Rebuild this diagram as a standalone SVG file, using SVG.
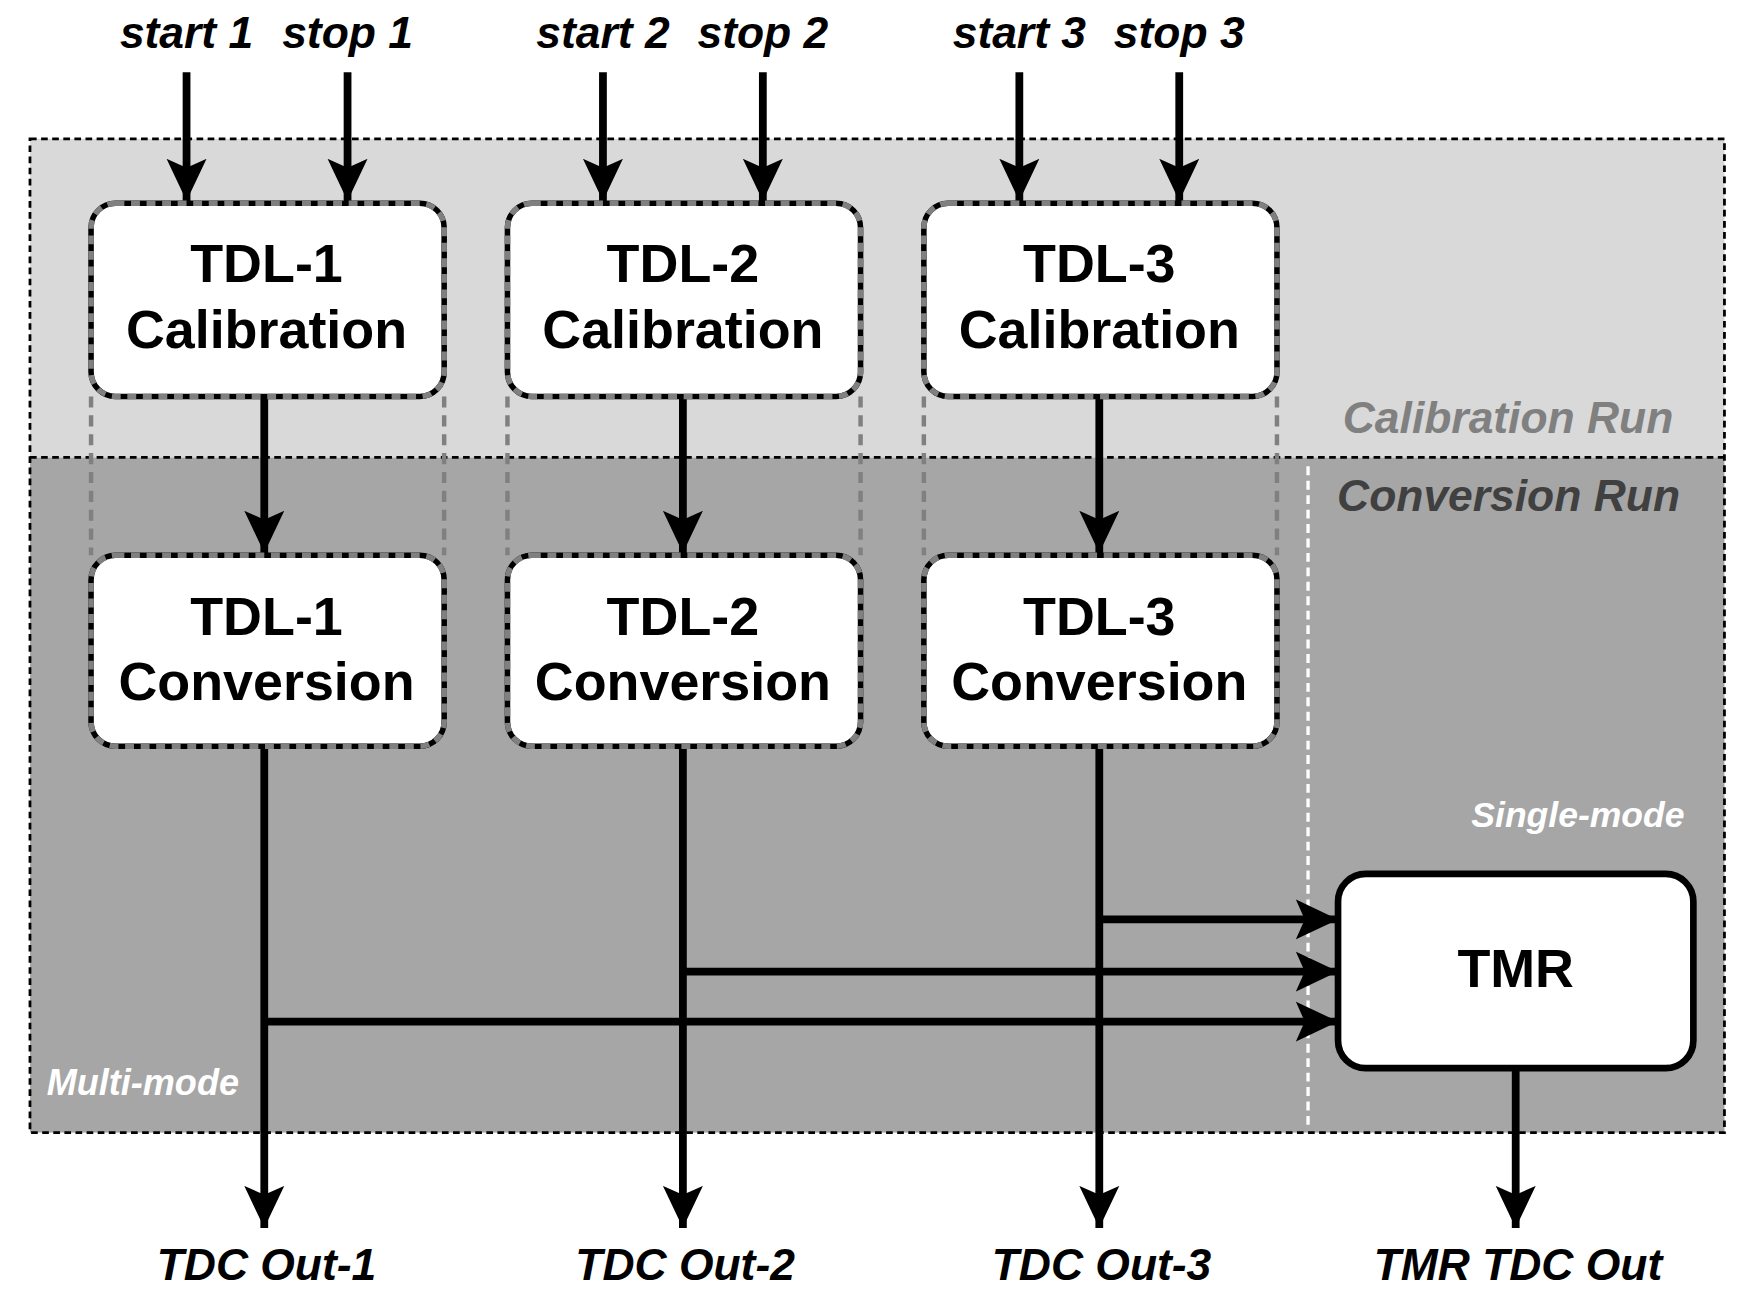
<svg xmlns="http://www.w3.org/2000/svg" width="1741" height="1303" viewBox="0 0 1741 1303">
<style>
.box{fill:#fff;stroke:#000;stroke-width:5}
.boxd{fill:none;stroke:#808080;stroke-width:5;stroke-dasharray:8 6}
.grp{fill:none;stroke:#808080;stroke-width:4;stroke-dasharray:10 7}
.ln{stroke:#000;stroke-width:7;fill:none}
.bt{font-family:"Liberation Sans",Arial,sans-serif;font-weight:bold;font-size:48.5px;text-anchor:middle;fill:#000}
.it{font-family:"Liberation Sans",Arial,sans-serif;font-weight:bold;font-style:italic;font-size:40px;text-anchor:middle;fill:#000}
</style>
<defs>
<marker id="ah" viewBox="0 0 40 40" refX="38" refY="20" markerWidth="40" markerHeight="40" markerUnits="userSpaceOnUse" orient="auto">
<path d="M0,2 L38,20 L0,38 L8,20 Z" fill="#000"/>
</marker>
</defs>
<rect width="1741" height="1303" fill="#fff"/>
<g transform="scale(1.1104)">
<g id="regions">
<rect x="27" y="125" width="1526" height="287" fill="#d9d9d9"/>
<rect x="27" y="412" width="1526" height="608" fill="#a6a6a6"/>
<rect x="27" y="125" width="1526" height="895" fill="none" stroke="#000" stroke-width="2.5" stroke-dasharray="6 4"/>
<line x1="27" y1="412" x2="1553" y2="412" stroke="#000" stroke-width="2.5" stroke-dasharray="6 4"/>
<line x1="1178" y1="420" x2="1178" y2="1015" stroke="#fff" stroke-width="3" stroke-dasharray="8 5"/>
<text x="1507" y="390" class="it" style="text-anchor:end;fill:#808080">Calibration Run</text>
<text x="1513" y="460" class="it" style="text-anchor:end;fill:#404040">Conversion Run</text>
<text x="1517" y="745" class="it" style="text-anchor:end;fill:#fff;font-size:32px">Single-mode</text>
<text x="42" y="986" class="it" style="text-anchor:start;fill:#fff;font-size:32.5px">Multi-mode</text>
</g>
<g id="groups">
<path class="grp" d="M82,357 V500 M400,357 V500 M457,357 V500 M775,357 V500 M832,357 V500 M1150,357 V500"/>
</g>
<g id="connectors">
<path class="ln" marker-end="url(#ah)" d="M168,65 V181"/>
<path class="ln" marker-end="url(#ah)" d="M313,65 V181"/>
<path class="ln" marker-end="url(#ah)" d="M543,65 V181"/>
<path class="ln" marker-end="url(#ah)" d="M687,65 V181"/>
<path class="ln" marker-end="url(#ah)" d="M918,65 V181"/>
<path class="ln" marker-end="url(#ah)" d="M1062,65 V181"/>
<path class="ln" marker-end="url(#ah)" d="M238,357 V498"/>
<path class="ln" marker-end="url(#ah)" d="M615,357 V498"/>
<path class="ln" marker-end="url(#ah)" d="M990,357 V498"/>
<path class="ln" marker-end="url(#ah)" d="M238,672 V1106"/>
<path class="ln" marker-end="url(#ah)" d="M615,672 V1106"/>
<path class="ln" marker-end="url(#ah)" d="M990,672 V1106"/>
<path class="ln" marker-end="url(#ah)" d="M990,828 H1205"/>
<path class="ln" marker-end="url(#ah)" d="M615,875 H1205"/>
<path class="ln" marker-end="url(#ah)" d="M238,920 H1205"/>
<path class="ln" marker-end="url(#ah)" d="M1365,962 V1106"/>
</g>
<g id="inputs">
<text x="168" y="43" class="it">start 1</text><text x="313" y="43" class="it">stop 1</text>
<text x="543" y="43" class="it">start 2</text><text x="687" y="43" class="it">stop 2</text>
<text x="918" y="43" class="it">start 3</text><text x="1062" y="43" class="it">stop 3</text>
</g>
<g id="cal1"><rect class="box" x="82" y="183" width="318" height="174" rx="22"/><rect class="boxd" x="82" y="183" width="318" height="174" rx="22"/><text class="bt" x="240" y="254">TDL-1</text><text class="bt" x="240" y="313">Calibration</text></g>
<g id="cal2"><rect class="box" x="457" y="183" width="318" height="174" rx="22"/><rect class="boxd" x="457" y="183" width="318" height="174" rx="22"/><text class="bt" x="615" y="254">TDL-2</text><text class="bt" x="615" y="313">Calibration</text></g>
<g id="cal3"><rect class="box" x="832" y="183" width="318" height="174" rx="22"/><rect class="boxd" x="832" y="183" width="318" height="174" rx="22"/><text class="bt" x="990" y="254">TDL-3</text><text class="bt" x="990" y="313">Calibration</text></g>
<g id="conv1"><rect class="box" x="82" y="500" width="318" height="172" rx="22"/><rect class="boxd" x="82" y="500" width="318" height="172" rx="22"/><text class="bt" x="240" y="572">TDL-1</text><text class="bt" x="240" y="630">Conversion</text></g>
<g id="conv2"><rect class="box" x="457" y="500" width="318" height="172" rx="22"/><rect class="boxd" x="457" y="500" width="318" height="172" rx="22"/><text class="bt" x="615" y="572">TDL-2</text><text class="bt" x="615" y="630">Conversion</text></g>
<g id="conv3"><rect class="box" x="832" y="500" width="318" height="172" rx="22"/><rect class="boxd" x="832" y="500" width="318" height="172" rx="22"/><text class="bt" x="990" y="572">TDL-3</text><text class="bt" x="990" y="630">Conversion</text></g>
<g id="tmr"><rect class="box" x="1205" y="787" width="320" height="175" rx="25" style="stroke-width:6"/><text class="bt" x="1365" y="889">TMR</text></g>
<g id="outputs">
<text x="240" y="1153" class="it">TDC Out-1</text>
<text x="617" y="1153" class="it">TDC Out-2</text>
<text x="992" y="1153" class="it">TDC Out-3</text>
<text x="1367" y="1153" class="it">TMR TDC Out</text>
</g>
</g>
</svg>
